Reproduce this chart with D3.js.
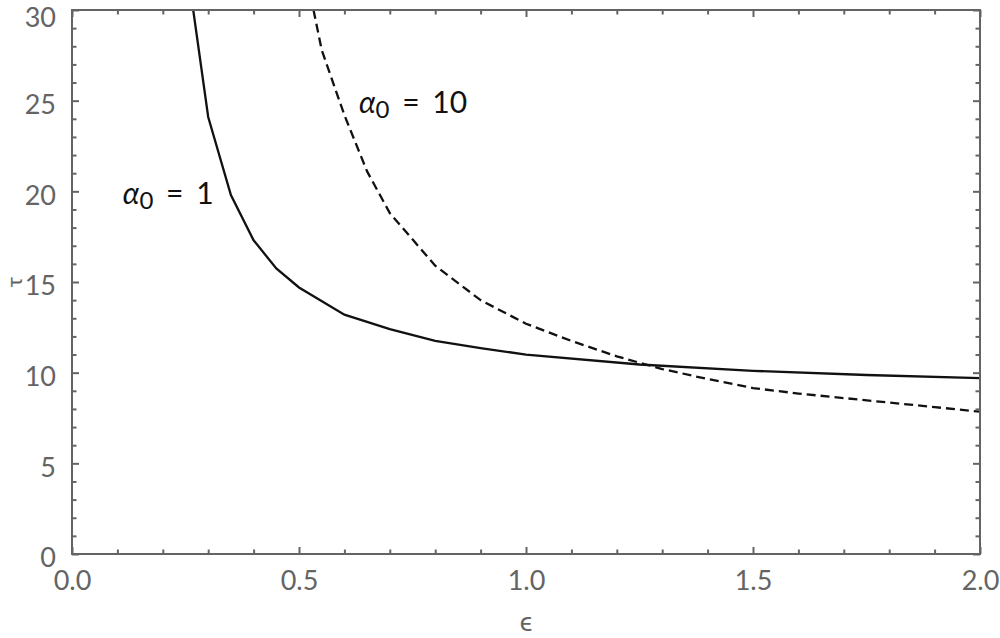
<!DOCTYPE html>
<html><head><meta charset="utf-8">
<script src="https://cdn.jsdelivr.net/npm/d3@7"></script>
<style>
html,body{margin:0;padding:0;background:#fff;}
svg{display:block;}
text{font-family:"Lato","Noto Sans",sans-serif;}
</style></head>
<body>
<svg id="chart" width="1000" height="638"></svg>
<script>
// Data (epsilon vs tau)
const solidEps = [0.267, 0.3, 0.35, 0.4, 0.45, 0.5, 0.6, 0.7, 0.8, 0.9, 1.0, 1.25, 1.5, 1.75, 2.0];
const solidTau = [30, 24.1, 19.8, 17.3, 15.75, 14.7, 13.2, 12.4, 11.75, 11.35, 11.0, 10.45, 10.1, 9.87, 9.7];
const dashEps = [0.532, 0.55, 0.6, 0.65, 0.7, 0.8, 0.9, 1.0, 1.1, 1.2, 1.3, 1.4, 1.5, 1.6, 1.7, 1.8, 1.9, 2.0];
const dashTau = [30, 27.8, 24.2, 21.1, 18.8, 15.9, 14.0, 12.7, 11.75, 10.9, 10.2, 9.65, 9.15, 8.85, 8.6, 8.35, 8.1, 7.85];
const xMajor = [0, 0.5, 1.0, 1.5, 2.0];
const xMinor = [0.1,0.2,0.3,0.4,0.6,0.7,0.8,0.9,1.1,1.2,1.3,1.4,1.6,1.7,1.8,1.9];
const yMajor = [0, 5, 10, 15, 20, 25, 30];
const yMinor = [1,2,3,4,6,7,8,9,11,12,13,14,16,17,18,19,21,22,23,24,26,27,28,29];

const svg = d3.select("#chart");
const L = 72, R = 980, T = 10, B = 554;
const x = d3.scaleLinear().domain([0, 2]).range([L, R]);
const y = d3.scaleLinear().domain([0, 30]).range([B, T]);
const axisColor = "#646464";

// curves
const line = d3.line().x(d => x(d[0])).y(d => y(d[1]));
const solid = solidEps.map((e, i) => [e, solidTau[i]]);
const dashed = dashEps.map((e, i) => [e, dashTau[i]]);
svg.append("defs").append("clipPath").attr("id", "clip")
  .append("rect").attr("x", L).attr("y", T).attr("width", R - L).attr("height", B - T);
const g = svg.append("g").attr("clip-path", "url(#clip)");
g.append("path").datum(solid).attr("d", line).attr("fill", "none")
  .attr("stroke", "#111").attr("stroke-width", 2.3);
g.append("path").datum(dashed).attr("d", line).attr("fill", "none")
  .attr("stroke", "#111").attr("stroke-width", 2.3).attr("stroke-dasharray", "9,5");

// axes
function styleAxis(sel) {
  sel.select(".domain").remove();
  sel.selectAll("line").attr("stroke", axisColor).attr("stroke-width", 2);
  sel.selectAll("text").attr("fill", axisColor).style("font-size", "27px");
}
const mk = (axis, ticks, size, fmt) => axis.tickValues(ticks).tickSizeInner(size).tickSizeOuter(0).tickFormat(fmt);

// bottom
svg.append("g").attr("transform", `translate(0,${B})`)
  .call(mk(d3.axisBottom(x), xMinor, -4.5, "")).call(styleAxis);
svg.append("g").attr("transform", `translate(0,${B})`)
  .call(mk(d3.axisBottom(x), xMajor, -7, d3.format(".1f")).tickPadding(17)).call(styleAxis)
  .selectAll("text").attr("dy", "0.71em");
// top
svg.append("g").attr("transform", `translate(0,${T})`)
  .call(mk(d3.axisTop(x), xMinor, -4.5, "")).call(styleAxis);
svg.append("g").attr("transform", `translate(0,${T})`)
  .call(mk(d3.axisTop(x), xMajor, -7, "")).call(styleAxis);
// left
svg.append("g").attr("transform", `translate(${L},0)`)
  .call(mk(d3.axisLeft(y), yMinor, -4.5, "")).call(styleAxis);
svg.append("g").attr("transform", `translate(${L},0)`)
  .call(mk(d3.axisLeft(y), yMajor, -7, d3.format("d")).tickPadding(16)).call(styleAxis)
  .selectAll("text").attr("dy", "0.47em").attr("y", d => d === 30 ? 4 : 0);
// right
svg.append("g").attr("transform", `translate(${R},0)`)
  .call(mk(d3.axisRight(y), yMinor, -4.5, "")).call(styleAxis);
svg.append("g").attr("transform", `translate(${R},0)`)
  .call(mk(d3.axisRight(y), yMajor, -7, "")).call(styleAxis);

// frame
svg.append("rect").attr("x", L).attr("y", T).attr("width", R - L).attr("height", B - T)
  .attr("fill", "none").attr("stroke", axisColor).attr("stroke-width", 2);

// axis titles
svg.append("text").attr("x", 526).attr("y", 631).attr("text-anchor", "middle")
  .attr("fill", axisColor).style("font-size", "27px").text("ϵ");
svg.append("text").attr("transform", `translate(22,${y(15)}) rotate(-90)`).attr("text-anchor", "middle")
  .attr("fill", axisColor).style("font-size", "22px").text("τ");

// curve labels
function label(px, py, val) {
  const t = svg.append("text").attr("x", px).attr("y", py).attr("fill", "#111")
    .style("font-size", "30px").style("word-spacing", "5px");
  t.append("tspan").style("font-style", "italic").text("α");
  t.append("tspan").attr("dy", 5).style("font-size", "24px").text("0");
  t.append("tspan").attr("dy", -5).text(" = " + val);
}
label(x(0.112), y(19.3), "1");
label(x(0.632), y(24.3), "10");
</script>
</body></html>
